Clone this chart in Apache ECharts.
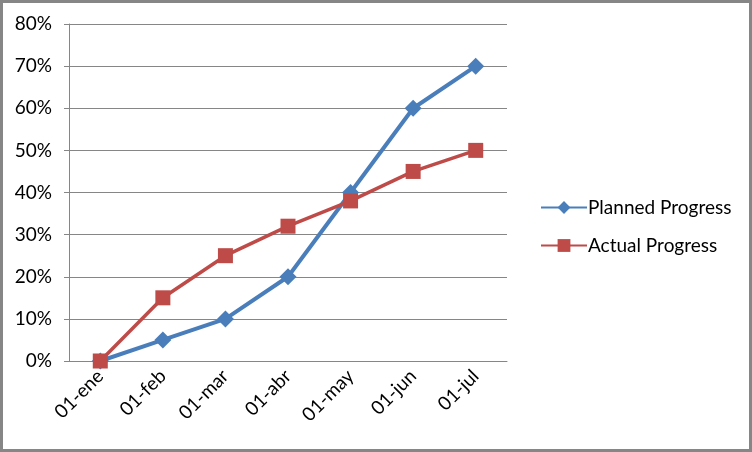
<!DOCTYPE html>
<html>
<head>
<meta charset="utf-8">
<script src="https://cdn.jsdelivr.net/npm/echarts@6/dist/echarts.min.js"></script>
<style>
  html, body { margin: 0; padding: 0; background: #fff; }
  #chart { width: 752px; height: 452px; box-sizing: border-box; border: 3px solid #868686; }
</style>
</head>
<body>
<div id="chart"></div>
<script>
const months = ["01-ene", "01-feb", "01-mar", "01-abr", "01-may", "01-jun", "01-jul"];
const planned = [0, 5, 10, 20, 40, 60, 70];
const actual = [0, 15, 25, 32, 38, 45, 50];

const chart = echarts.init(document.getElementById("chart"));
const font = "Lato, 'Open Sans', sans-serif";

chart.setOption({
  animation: false,
  textStyle: { fontFamily: font },
  grid: { left: 66, right: 242, top: 21, bottom: 88 },
  legend: {
    orient: "vertical",
    left: 532,
    top: 190,
    itemGap: 19,
    itemWidth: 46,
    itemHeight: 16,
    textStyle: { fontSize: 19, color: "#000", fontFamily: font, padding: [0, 0, 0, -4] },
    data: ["Planned Progress", "Actual Progress"]
  },
  xAxis: {
    type: "category",
    data: months,
    boundaryGap: true,
    axisLine: { lineStyle: { color: "#868686", width: 1 } },
    axisTick: { length: 5, lineStyle: { color: "#868686" } },
    axisLabel: { rotate: 45, fontSize: 19, color: "#000", margin: 12, fontFamily: font }
  },
  yAxis: {
    type: "value",
    min: 0,
    max: 80,
    interval: 10,
    axisLine: { show: true, lineStyle: { color: "#868686", width: 1 } },
    axisTick: { show: true, length: 5, lineStyle: { color: "#868686" } },
    splitLine: { lineStyle: { color: "#868686", width: 1 } },
    axisLabel: { formatter: "{value}%", fontSize: 19, color: "#000", margin: 17, fontFamily: font }
  },
  series: [
    {
      name: "Planned Progress",
      type: "line",
      data: planned,
      symbol: "diamond",
      symbolSize: 17,
      lineStyle: { color: "#4a7ebb", width: 4 },
      itemStyle: { color: "#4a7ebb" }
    },
    {
      name: "Actual Progress",
      type: "line",
      data: actual,
      symbol: "rect",
      symbolSize: 15,
      lineStyle: { color: "#be4b48", width: 3.5 },
      itemStyle: { color: "#be4b48" }
    }
  ]
});
</script>
</body>
</html>
